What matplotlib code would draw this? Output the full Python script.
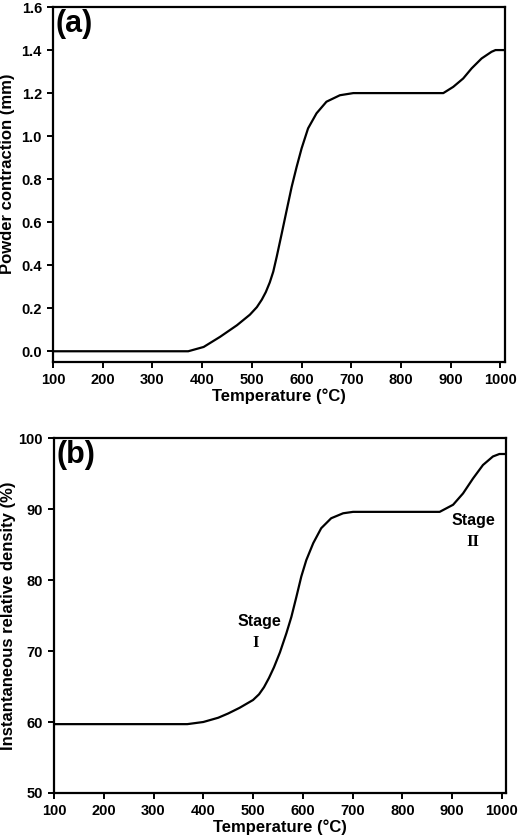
import matplotlib
matplotlib.use("Agg")
import matplotlib.pyplot as plt

plt.rcParams['font.family'] = ['Liberation Sans', 'DejaVu Sans']
plt.rcParams['font.weight'] = 'bold'

# (a) powder contraction vs temperature
temp_a = [100, 372, 403, 436, 470, 496, 510, 520, 528, 536, 543, 550, 560, 570, 580,
          590, 600, 613, 630, 650, 677, 704, 885, 905, 925, 942, 962, 982, 990, 1009]
contraction = [0, 0, 0.02, 0.067, 0.121, 0.17, 0.205, 0.24, 0.275, 0.32, 0.37, 0.44,
               0.547, 0.656, 0.764, 0.857, 0.943, 1.036, 1.106, 1.16, 1.19, 1.20,
               1.20, 1.229, 1.268, 1.315, 1.361, 1.392, 1.40, 1.40]

# (b) instantaneous relative density vs temperature
temp_b = [100, 368, 400, 430, 450, 473, 500, 512, 522, 532, 542, 554, 567, 577, 587,
          597, 607, 621, 637, 657, 681, 701, 875, 902, 922, 942, 962, 982, 995, 1008]
density = [59.7, 59.7, 60.0, 60.6, 61.2, 62.0, 63.1, 63.9, 64.9, 66.2, 67.7, 69.8,
           72.5, 74.8, 77.6, 80.5, 82.8, 85.2, 87.3, 88.7, 89.4, 89.6, 89.6, 90.6,
           92.2, 94.3, 96.2, 97.4, 97.75, 97.75]

xticks = list(range(100, 1001, 100))
yticks_a = [0.0, 0.2, 0.4, 0.6, 0.8, 1.0, 1.2, 1.4, 1.6]
yticks_b = [50, 60, 70, 80, 90, 100]

fig = plt.figure(figsize=(5.2, 8.38), dpi=100)
ax1 = fig.add_axes([0.1019, 0.568, 0.8692, 0.4236])
ax2 = fig.add_axes([0.1038, 0.0537, 0.869, 0.4236])


def style(ax):
    for s in ax.spines.values():
        s.set_linewidth(1.6)
    ax.tick_params(direction='out', length=4, width=1.4, labelsize=10.5, pad=4,
                   top=False, right=False)
    for lab in ax.get_xticklabels() + ax.get_yticklabels():
        lab.set_fontweight('bold')
    ax.set_xlabel('Temperature (°C)', fontsize=12, fontweight='bold', labelpad=1)


ax1.plot(temp_a, contraction, color='black', lw=1.6)
ax1.set_xlim(100, 1009)
ax1.set_ylim(-0.05, 1.6)
ax1.set_xticks(xticks)
ax1.set_yticks(yticks_a)
ax1.set_yticklabels([f'{v:.1f}' for v in yticks_a])
ax1.set_ylabel('Powder contraction (mm)', fontsize=12, fontweight='bold')
style(ax1)
ax1.yaxis.set_label_coords(-0.083, 0.53)
ax1.text(0.005, 0.995, '(a)', transform=ax1.transAxes, fontsize=22,
         fontweight='bold', va='top', ha='left')

ax2.plot(temp_b, density, color='black', lw=1.6)
ax2.set_xlim(100, 1008)
ax2.set_ylim(50, 100)
ax2.set_xticks(xticks)
ax2.set_yticks(yticks_b)
ax2.set_ylabel('Instantaneous relative density (%)', fontsize=12, fontweight='bold')
style(ax2)
ax2.yaxis.set_label_coords(-0.083, 0.5)
ax2.text(0.005, 0.995, '(b)', transform=ax2.transAxes, fontsize=22,
         fontweight='bold', va='top', ha='left')

ax2.text(513, 74.1, 'Stage', fontsize=11.5, fontweight='bold', ha='center', va='center')
ax2.text(505, 71.1, 'I', fontsize=12, fontweight='bold', family='Liberation Serif',
         ha='center', va='center')
ax2.text(942, 88.45, 'Stage', fontsize=11.5, fontweight='bold', ha='center', va='center')
ax2.text(941, 85.35, 'II', fontsize=12, fontweight='bold', family='Liberation Serif',
         ha='center', va='center')

fig.savefig('out.png', dpi=100)
